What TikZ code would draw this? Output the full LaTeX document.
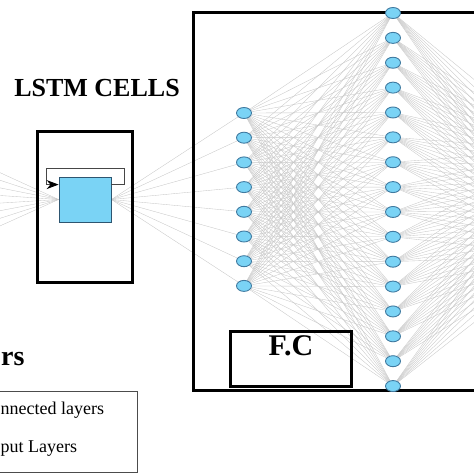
\documentclass[tikz,border=0pt]{standalone}
\usepackage{fontspec}
\setmainfont{Liberation Serif}
\usetikzlibrary{shapes.geometric,arrows.meta,backgrounds}

\begin{document}
\begin{tikzpicture}[x=1pt,y=-1pt,
    neuron/.style={ellipse, draw=nn_edge, fill=nn_blue, line width=0.9pt, minimum width=15pt, minimum height=11pt, inner sep=0pt},
    link/.style={draw=black!22, line width=0.35pt},
    frame/.style={draw=black, line width=3pt, inner sep=0pt}]

% ------------------------------------------------ network colors
\definecolor{nn_blue}{RGB}{122,211,245}  %#7AD3F5
\definecolor{nn_edge}{RGB}{64,122,160}   %#407AA0
\definecolor{nn_loop}{RGB}{70,70,70}     %#464646

\useasboundingbox (0,0) rectangle (474,474);
\clip (0,0) rectangle (474,474);

% boxes
\node[frame, minimum width=95pt,  minimum height=151pt] (lstmbox) at (84.5,206.5) {};
\node[frame, minimum width=297pt, minimum height=378pt] (fcbox)   at (341.5,201) {};
\node[frame, minimum width=121pt, minimum height=55pt]  (fcname)  at (290.5,358.5) {};

% titles
\node[anchor=base, inner sep=0pt, font=\bfseries\fontsize{26}{30}\selectfont] (lstmtitle) at (97,96) {LSTM CELLS};
\node[anchor=base, inner sep=0pt, font=\bfseries\fontsize{30}{34}\selectfont] (fctitle) at (291,355) {F.C};
\node[anchor=base west, inner sep=0pt, font=\bfseries\fontsize{28}{32}\selectfont] (legtitle) at (1,365) {rs};

% legend
\node[draw=black!70, line width=1pt, minimum width=142pt, minimum height=81pt, inner sep=0pt] (legend) at (66,431.5) {};
\node[anchor=base west, inner sep=0pt, font=\fontsize{18}{20}\selectfont] (leg1) at (0.5,414) {nnected layers};
\node[anchor=base west, inner sep=0pt, font=\fontsize{18}{20}\selectfont] (leg2) at (0.5,452) {put Layers};

% lstm cell with its feedback loop
\node[draw=nn_edge!70!black, fill=nn_blue, line width=0.8pt, minimum width=52pt, minimum height=45pt, inner sep=0pt] (cell) at (85,199.5) {};
\draw[draw=nn_loop, line width=0.9pt, >={Stealth[length=12pt,width=9pt,black]}, ->]
    ([yshift=-8pt]cell.north east) -- ++(13,0) -- ++(0,-16) -- ++(-78,0) -- ++(0,16) -- ([yshift=-8pt]cell.north west);

% neurons: fc layer (8), hidden layer (16); outer ends off the picture
\foreach \k in {1,...,8}  \node[neuron] (f\k) at (244,{113+24.7*(\k-1)}) {};
\foreach \k in {1,...,16} \node[neuron] (h\k) at (393,{13+24.87*(\k-1)}) {};
\foreach \k in {1,...,8}  \coordinate (o\k) at (560,{150+15*(\k-1)});
\foreach \k in {1,...,8}  \coordinate (i\k) at (-80,{136+18*(\k-1)});

% connections
\begin{scope}[on background layer]
  \clip (0,0) rectangle (474,474);
  \foreach \k in {1,...,8} \draw[link] (i\k) -- (cell.west);
  \foreach \k in {1,...,8} \draw[link] (cell.east) -- (f\k);
  \foreach \a in {1,...,8} \foreach \b in {1,...,16} \draw[link] (f\a) -- (h\b);
  \foreach \a in {1,...,16} \foreach \b in {1,...,8} \draw[link] (h\a) -- (o\b);
\end{scope}

\end{tikzpicture}
\end{document}
